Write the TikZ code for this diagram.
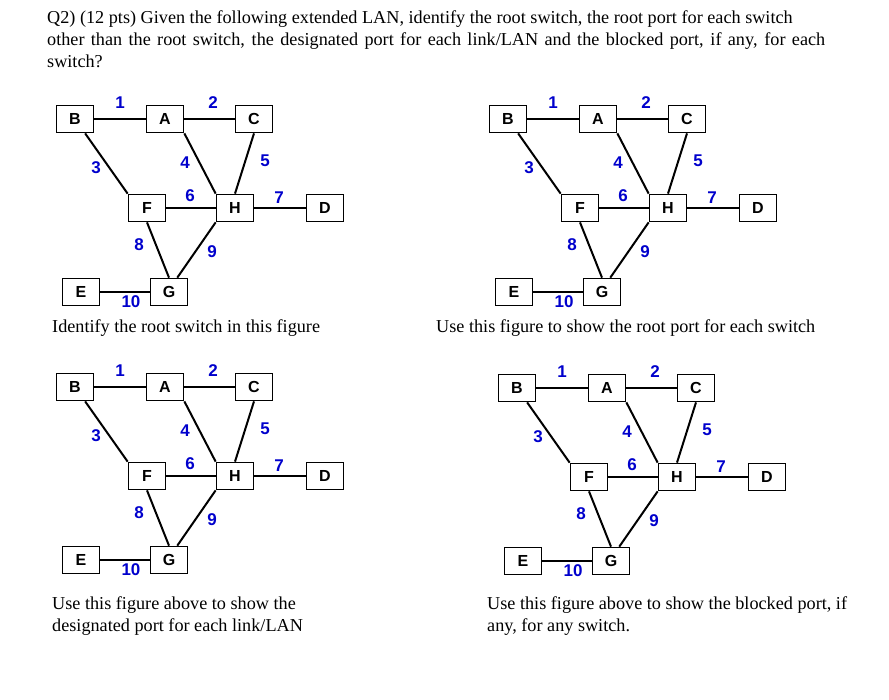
\documentclass[tikz,border=0pt]{standalone}
\usepackage{fontspec}
\setmainfont{Liberation Serif}
\newfontfamily\arial{Liberation Sans}
\usetikzlibrary{positioning}

% one extended LAN, shifted by (#2,#3), node names prefixed with #1
\newcommand{\lanfig}[3]{%
  \begin{scope}[shift={(#2,#3)}]
    % switches
    \node[sw] (#1B) at (75,119) {B};
    \node[sw] (#1A) at (165,119) {A};
    \node[sw] (#1C) at (254,119) {C};
    \node[sw] (#1F) at (147,208) {F};
    \node[sw] (#1H) at (235,208) {H};
    \node[sw] (#1D) at (325,208) {D};
    \node[sw] (#1E) at (81,292) {E};
    \node[sw] (#1G) at (169,292) {G};
    % links
    \draw[link] (#1B) -- (#1A);
    \draw[link] (#1A) -- (#1C);
    \draw[link] (#1B) -- (#1F.north west);
    \draw[link] (#1A.south east) -- (#1H.north west);
    \draw[link] (#1C.south) -- (#1H.north);
    \draw[link] (#1F) -- (#1H);
    \draw[link] (#1H) -- (#1D);
    \draw[link] (#1F.south) -- (#1G.north);
    \draw[link] (#1H.south west) -- (#1G.60);
    \draw[link] (#1E) -- (#1G);
    % port numbers
    \node[port] (#1p1) at (120,103) {1};
    \node[port] (#1p2) at (213,103) {2};
    \node[port] (#1p3) at (96,168) {3};
    \node[port] (#1p4) at (185,163) {4};
    \node[port] (#1p5) at (265,161) {5};
    \node[port] (#1p6) at (190,196) {6};
    \node[port] (#1p7) at (279,198) {7};
    \node[port] (#1p8) at (139,245) {8};
    \node[port] (#1p9) at (212,252) {9};
    \node[port] (#1p10) at (131,302) {10};
  \end{scope}}

\begin{document}
\begin{tikzpicture}[x=1pt, y=-1pt,
    sw/.style={draw, line width=1.7pt, minimum width=37pt, minimum height=27pt,
      inner sep=0pt, font=\arial\bfseries\fontsize{16}{16}\selectfont},
    link/.style={line width=2pt},
    port/.style={text=blue!80!black, inner sep=0pt, font=\arial\bfseries\fontsize{17}{17}\selectfont},
    txt/.style={anchor=north west, inner sep=0pt, align=left, font=\fontsize{18.2}{22}\selectfont}]
  \useasboundingbox (0,0) rectangle (889,699);

  % question
  \node[txt, text width=778pt, align=justify] (q) at (47,10)
    {Q2) (12 pts) Given the following extended LAN, identify the root switch, the root port for each switch\newline other than the root switch, the designated port for each link/LAN and the blocked port, if any, for each switch?};

  \lanfig{a}{0}{0}
  \lanfig{b}{433}{0}
  \lanfig{c}{0}{268}
  \lanfig{d}{442}{269}

  % captions
  \node[txt] (capa) at (52,319) {Identify the root switch in this figure};
  \node[txt] (capb) at (436,319) {Use this figure to show the root port for each switch};
  \node[txt] (capc) at (52,596) {Use this figure above to show the\\designated port for each link/LAN};
  \node[txt] (capd) at (487,596) {Use this figure above to show the blocked port, if\\any, for any switch.};
\end{tikzpicture}
\end{document}
